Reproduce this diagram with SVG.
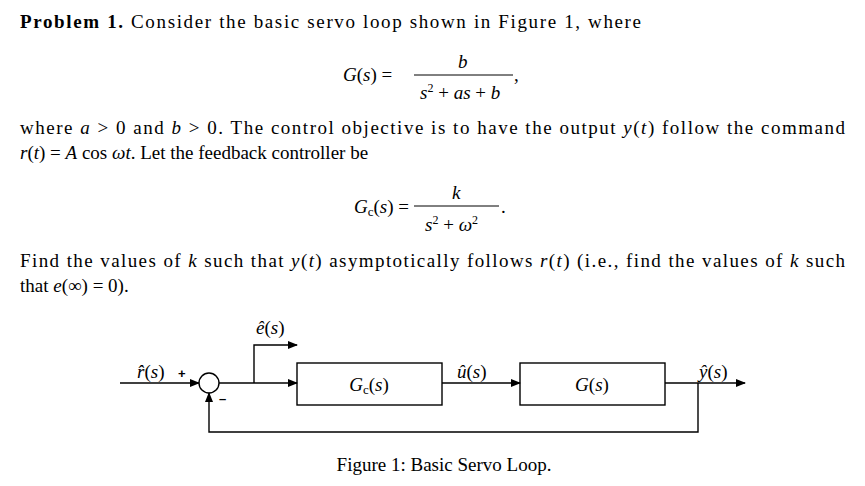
<svg xmlns="http://www.w3.org/2000/svg" width="865" height="486" viewBox="0 0 865 486">
<style>
text{font-family:"Liberation Serif","DejaVu Serif",serif;font-size:19px;fill:#000}
.i{font-style:italic}
.ln{stroke:#000;stroke-width:1.4;fill:none}
.box{stroke:#000;stroke-width:1.4;fill:#fff}
.sg{font-family:"Liberation Sans",sans-serif;font-size:13px;font-weight:bold}
</style>
<defs><marker id="a" markerWidth="10" markerHeight="8" refX="9" refY="4" orient="auto" markerUnits="userSpaceOnUse"><path d="M0,0L10,4L0,8z" fill="#000"/></marker></defs>
<rect width="865" height="486" fill="#fff"/>
<text x="20" y="28" textLength="621" lengthAdjust="spacing"><tspan font-weight="bold">Problem 1.</tspan> Consider the basic servo loop shown in Figure 1, where</text>
<text x="343" y="81"><tspan class="i">G</tspan>(<tspan class="i">s</tspan>) =</text>
<text x="458" y="68" class="i">b</text>
<line x1="414" y1="75" x2="513" y2="75" stroke="#000" stroke-width="1"/>
<text x="420" y="99"><tspan class="i">s</tspan><tspan font-size="12" dy="-7">2</tspan><tspan dy="7"> + </tspan><tspan class="i">as</tspan> + <tspan class="i">b</tspan></text>
<text x="514" y="81">,</text>
<text x="20" y="134" textLength="825" lengthAdjust="spacing">where <tspan class="i">a</tspan> &gt; 0 and <tspan class="i">b</tspan> &gt; 0. The control objective is to have the output <tspan class="i">y</tspan>(<tspan class="i">t</tspan>) follow the command</text>
<text x="20" y="159"><tspan class="i">r</tspan>(<tspan class="i">t</tspan>) = <tspan class="i">A</tspan> cos <tspan class="i">ωt</tspan>. Let the feedback controller be</text>
<text x="354" y="213"><tspan class="i">G</tspan><tspan font-size="13" dy="3">c</tspan><tspan dy="-3">(</tspan><tspan class="i">s</tspan>) =</text>
<text x="452" y="199" class="i">k</text>
<line x1="414" y1="206" x2="499" y2="206" stroke="#000" stroke-width="1"/>
<text x="425" y="231"><tspan class="i">s</tspan><tspan font-size="12" dy="-7">2</tspan><tspan dy="7"> + </tspan><tspan class="i">ω</tspan><tspan font-size="12" dy="-7">2</tspan></text>
<text x="501" y="213">.</text>
<text x="20" y="267" textLength="825" lengthAdjust="spacing">Find the values of <tspan class="i">k</tspan> such that <tspan class="i">y</tspan>(<tspan class="i">t</tspan>) asymptotically follows <tspan class="i">r</tspan>(<tspan class="i">t</tspan>) (i.e., find the values of <tspan class="i">k</tspan> such</text>
<text x="20" y="292">that <tspan class="i">e</tspan>(∞) = 0).</text>
<g id="sum"><circle cx="209" cy="383" r="10" class="ln"/><text x="178" y="378" class="sg">+</text><text x="219" y="403" class="sg">–</text></g>
<g id="Gc"><rect x="297" y="363" width="145" height="42" class="box"/><text x="369" y="391" text-anchor="middle"><tspan class="i">G</tspan><tspan font-size="13" dy="3">c</tspan><tspan dy="-3">(</tspan><tspan class="i">s</tspan>)</text></g>
<g id="G"><rect x="520" y="363" width="145" height="42" class="box"/><text x="592" y="391" text-anchor="middle"><tspan class="i">G</tspan>(<tspan class="i">s</tspan>)</text></g>
<g id="connectors">
<path d="M120,383H199" class="ln" marker-end="url(#a)"/>
<path d="M219,383H297" class="ln" marker-end="url(#a)"/>
<path d="M254,383V345H297" class="ln" marker-end="url(#a)"/>
<path d="M442,383H520" class="ln" marker-end="url(#a)"/>
<path d="M665,383H745" class="ln" marker-end="url(#a)"/>
<path d="M698,383V432H209V393" class="ln" marker-end="url(#a)"/>
</g>
<text x="137" y="378" class="i">r̂<tspan font-style="normal">(</tspan>s<tspan font-style="normal">)</tspan></text>
<text x="256" y="334" class="i">ê<tspan font-style="normal">(</tspan>s<tspan font-style="normal">)</tspan></text>
<text x="457" y="378" class="i">û<tspan font-style="normal">(</tspan>s<tspan font-style="normal">)</tspan></text>
<text x="699" y="378" class="i">ŷ<tspan font-style="normal">(</tspan>s<tspan font-style="normal">)</tspan></text>
<text x="444" y="471" text-anchor="middle">Figure 1: Basic Servo Loop.</text>
</svg>
